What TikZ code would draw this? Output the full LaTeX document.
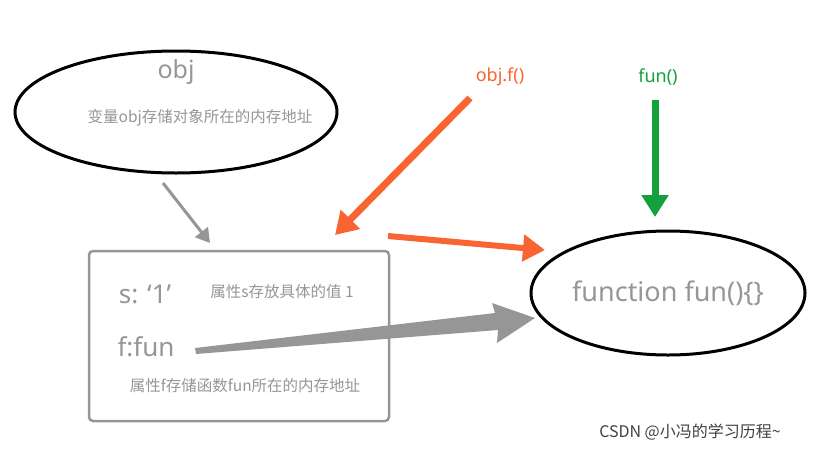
\documentclass[tikz,border=0pt]{standalone}
\usepackage{fontspec}
\setmainfont{Noto Sans}
\newfontfamily\cjk{Noto Sans CJK SC}
\usetikzlibrary{arrows.meta,shapes.geometric}
\definecolor{tg}{RGB}{150,150,150}
\definecolor{og}{RGB}{250,100,50}
\definecolor{gn}{RGB}{20,160,60}
\tikzset{ell/.style={draw=black,line width=3pt,ellipse,inner sep=0pt},
 gt/.style={text=tg}, arr/.style={-{Triangle[length=22pt,width=26pt]}},
 sm/.style={gt,font=\cjk\fontsize{15.5}{16}\selectfont}}
\begin{document}
\begin{tikzpicture}[x=1pt,y=-1pt]
\useasboundingbox (0,0) rectangle (821,450);
\node[ell,minimum width=322pt,minimum height=122pt] (obj) at (176,112) {};
\node[gt,font=\fontsize{25}{25}\selectfont] (objt) at (176,72) {obj};
\node[sm] (objd) at (200,118) {变量obj存储对象所在的内存地址};
\node[draw=tg,line width=2.5pt,rounded corners=4pt,minimum width=300pt,minimum height=170pt] (box) at (239,336) {};
\node[gt,font=\fontsize{26}{26}\selectfont] (s) at (145,294) {s: ‘1’};
\node[sm] (sd) at (282,292) {属性s存放具体的值 1};
\node[gt,font=\fontsize{26}{26}\selectfont] (f) at (146,347) {f:fun};
\node[sm] (fd) at (245,386) {属性f存储函数fun所在的内存地址};
\node[ell,minimum width=274pt,minimum height=124pt] (fun) at (668,293) {};
\node[gt,font=\fontsize{27}{27}\selectfont] (funt) at (668,293) {function fun()\{\}};
\node[text=og,font=\fontsize{18}{18}\selectfont] (of) at (500,77) {obj.f()};
\node[text=gn,font=\fontsize{18}{18}\selectfont] (fc) at (658,77) {fun()};
\node[text=black!75,font=\cjk\fontsize{16}{16}\selectfont] (wm) at (690,432) {CSDN @小冯的学习历程\textasciitilde};
\coordinate (a1) at (163,183); \coordinate (a2) at (210,243);
\draw[tg,line width=3pt,-{Triangle[length=14pt,width=16pt]}] (a1) -- (a2);
\coordinate (b1) at (470,98); \coordinate (b2) at (335,235);
\draw[og,line width=7pt,arr] (b1) -- (b2);
\coordinate (c1) at (388,236); \coordinate (c2) at (545,250);
\draw[og,line width=6pt,arr] (c1) -- (c2);
\coordinate (d1) at (655,100); \coordinate (d2) at (655,217);
\draw[gn,line width=7pt,arr] (d1) -- (d2);
\fill[tg] (195,348) -- (495,313) -- (492,303) -- (535,318) -- (497,343) -- (498,330) -- (196,354) -- cycle;
\end{tikzpicture}
\end{document}
